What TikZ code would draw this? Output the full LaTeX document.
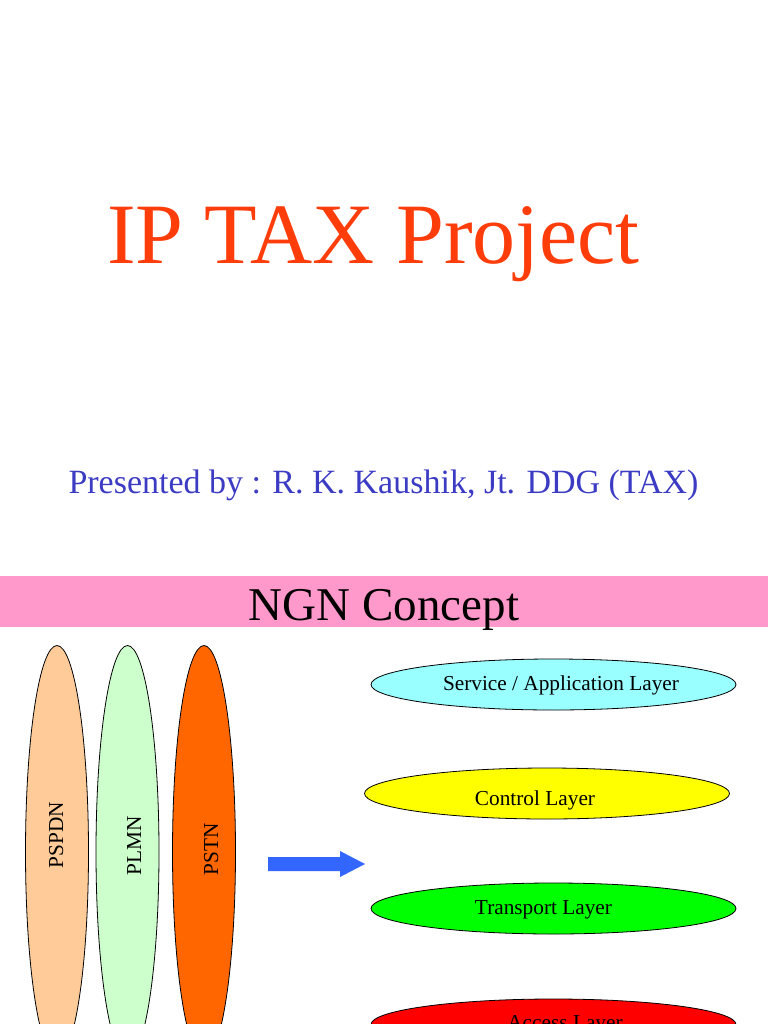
\documentclass[tikz,border=0pt]{standalone}
\usepackage{fontspec}
\setmainfont{Liberation Serif}
\usetikzlibrary{shapes.geometric}
\definecolor{titlered}{HTML}{FF3D0A}
\definecolor{presblue}{HTML}{3B3BC4}
\definecolor{bandpink}{HTML}{FF99CC}
\definecolor{peach}{HTML}{FFCC99}
\definecolor{palegreen}{HTML}{CCFFCC}
\definecolor{deeporange}{HTML}{FF6600}
\definecolor{palecyan}{HTML}{99FFFF}
\definecolor{arrowblue}{HTML}{3366FF}
\definecolor{layeryellow}{HTML}{FFFF00}
\definecolor{layergreen}{HTML}{00FF00}
\definecolor{layerred}{HTML}{FF0000}
\tikzset{
  x=1pt,y=-1pt,
  vert/.style={ellipse,draw=black,line width=0.8pt,inner sep=0pt,minimum width=63pt,minimum height=413pt},
  horiz/.style={ellipse,draw=black,line width=0.8pt,inner sep=0pt,minimum width=365pt,minimum height=51pt},
  lab/.style={anchor=base,inner sep=0pt,font=\fontsize{21.3}{25}\selectfont,text=black},
  vlab/.style={anchor=base,inner sep=0pt,font=\fontsize{21.3}{25}\selectfont,text=black,rotate=90},
}
\begin{document}
\begin{tikzpicture}
\useasboundingbox (0,0) rectangle (768,1024);
\clip (0,0) rectangle (768,1024);
\fill[white] (0,0) rectangle (768,1024);
\node[anchor=base,inner sep=0pt,text=titlered,font=\fontsize{86}{96}\selectfont] (title) at (373.5,263) {IP TAX Project};
\node[anchor=base,inner sep=0pt,text=presblue,font=\fontsize{34}{40}\selectfont] (pres) at (383.5,493) {Presented by : R. K. Kaushik, Jt. DDG (TAX)};
\fill[bandpink] (0,576) rectangle (768,627);
\node[anchor=base,inner sep=0pt,text=black,font=\fontsize{47}{56}\selectfont] (ngn) at (384,620) {NGN Concept};
\node[vert,fill=peach] (pspdn) at (57,852) {};
\node[vert,fill=palegreen] (plmn) at (127.5,852) {};
\node[vert,fill=deeporange] (pstn) at (204,852) {};
\node[vlab] (pspdnl) at (63,835) {PSPDN};
\node[vlab] (plmnl) at (141,846) {PLMN};
\node[vlab] (pstnl) at (218,849) {PSTN};
\node[horiz,fill=palecyan] (svc) at (553.5,684.5) {};
\node[lab] (svcl) at (561,690) {Service / Application Layer};
\node[horiz,fill=layeryellow] (ctl) at (547,793.5) {};
\node[lab] (ctll) at (535,805) {Control Layer};
\node[horiz,fill=layergreen] (trn) at (553.5,908.5) {};
\node[lab] (trnl) at (543.5,914) {Transport Layer};
\node[horiz,fill=layerred] (acc) at (553.5,1024.5) {};
\node[lab] (accl) at (565,1029) {Access Layer};
\fill[arrowblue] (268,857) -- (340,857) -- (340,851) -- (365,864) -- (340,877) -- (340,871) -- (268,871) -- cycle;
\end{tikzpicture}
\end{document}
